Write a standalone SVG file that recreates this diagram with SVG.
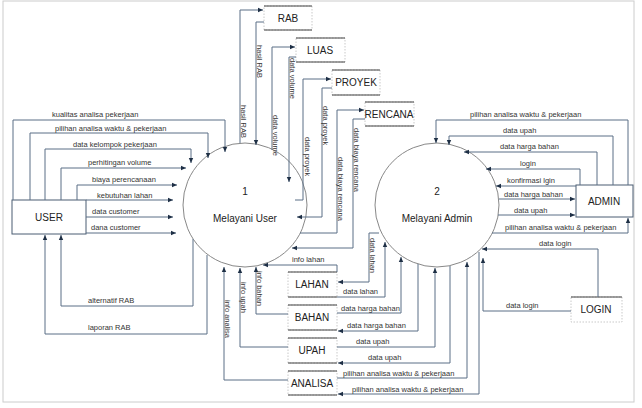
<svg xmlns="http://www.w3.org/2000/svg" width="642" height="408" viewBox="0 0 642 408">
<style>
.bg{fill:#fff}
.c{fill:none;stroke:#4a5d72;stroke-width:1}
.ln{fill:none;stroke:#5b6f86;stroke-width:1}
.bx{fill:#fff;stroke:#bbb;stroke-width:0.8;stroke-dasharray:1.5 1.5}
.bt{stroke:#444;stroke-width:1}
.circ{fill:#fff;stroke:#888;stroke-width:1}
.t{font-family:"Liberation Sans",Arial,sans-serif;font-size:7.5px;fill:#333}
.n{font-family:"Liberation Sans",Arial,sans-serif;font-size:10px;fill:#222;text-anchor:middle}
</style>
<defs>
<marker id="a" markerWidth="6" markerHeight="6" refX="5" refY="3" orient="auto" markerUnits="userSpaceOnUse"><path d="M0,0.8 L5,3 L0,5.2z" fill="#1e2f45"/></marker>
</defs>
<rect class="bg" width="642" height="408"/>
<rect x="3" y="1" width="631" height="401" fill="none" stroke="#ccc"/>

<g id="p1"><circle class="circ" cx="245" cy="205" r="62"/><text class="n" x="245" y="195">1</text><text class="n" x="245" y="222">Melayani User</text></g>
<g id="p2"><circle class="circ" cx="437" cy="205" r="62"/><text class="n" x="437" y="195">2</text><text class="n" x="437" y="222">Melayani Admin</text></g>

<g id="user"><rect x="12" y="200" width="74" height="34" fill="#fff" stroke="#4a5d72"/><text class="n" x="49" y="221">USER</text></g>
<g id="admin"><rect x="576" y="185" width="57" height="32" fill="#fff" stroke="#4a5d72"/><text class="n" x="604" y="205">ADMIN</text></g>
<g id="login"><rect class="bx" x="571" y="297" width="51" height="25"/><line class="bt" x1="571" y1="297" x2="622" y2="297" stroke="#bbb"/><text class="n" x="596" y="313">LOGIN</text></g>
<g id="rab"><rect class="bx" x="264" y="6" width="48" height="24"/><line class="bt" x1="264" y1="6" x2="312" y2="6"/><line class="bt" x1="264" y1="30" x2="312" y2="30"/><text class="n" x="288" y="22">RAB</text></g>
<g id="luas"><rect class="bx" x="296" y="38" width="49" height="24"/><line class="bt" x1="296" y1="38" x2="345" y2="38"/><line class="bt" x1="296" y1="62" x2="345" y2="62"/><text class="n" x="320" y="54">LUAS</text></g>
<g id="proyek"><rect class="bx" x="332" y="70" width="48" height="25"/><line class="bt" x1="332" y1="70" x2="380" y2="70"/><line class="bt" x1="332" y1="95" x2="380" y2="95"/><text class="n" x="356" y="86">PROYEK</text></g>
<g id="rencana"><rect class="bx" x="365" y="102" width="49" height="24"/><line class="bt" x1="365" y1="102" x2="414" y2="102"/><line class="bt" x1="365" y1="126" x2="414" y2="126"/><text class="n" x="389" y="118">RENCANA</text></g>
<g id="lahan"><rect class="bx" x="288" y="272" width="49" height="25"/><line class="bt" x1="288" y1="272" x2="337" y2="272"/><line class="bt" x1="288" y1="297" x2="337" y2="297"/><text class="n" x="312" y="288">LAHAN</text></g>
<g id="bahan"><rect class="bx" x="288" y="305" width="49" height="25"/><line class="bt" x1="288" y1="305" x2="337" y2="305"/><line class="bt" x1="288" y1="330" x2="337" y2="330"/><text class="n" x="312" y="321">BAHAN</text></g>
<g id="upah"><rect class="bx" x="288" y="338" width="49" height="25"/><line class="bt" x1="288" y1="338" x2="337" y2="338"/><line class="bt" x1="288" y1="363" x2="337" y2="363"/><text class="n" x="312" y="354">UPAH</text></g>
<g id="analisa"><rect class="bx" x="288" y="371" width="49" height="24"/><line class="bt" x1="288" y1="371" x2="337" y2="371"/><line class="bt" x1="288" y1="395" x2="337" y2="395"/><text class="n" x="312" y="387">ANALISA</text></g>

<g id="connectors" class="ln">
<!-- USER -> P1 -->
<path class="ln" marker-end="url(#a)" d="M13,200 V120 H225 V152"/>
<path class="ln" marker-end="url(#a)" d="M30,200 V133 H208 V158"/>
<path class="ln" marker-end="url(#a)" d="M45,200 V149 H191 V163"/>
<path class="ln" marker-end="url(#a)" d="M61,200 V168 H186"/>
<path class="ln" marker-end="url(#a)" d="M77,200 V185 H177"/>
<path class="ln" marker-end="url(#a)" d="M86,200 H173"/>
<path class="ln" marker-end="url(#a)" d="M86,217 H173"/>
<path class="ln" marker-end="url(#a)" d="M86,233 H176"/>
<path class="ln" marker-end="url(#a)" d="M193,239 V306 H61 V235"/>
<path class="ln" marker-end="url(#a)" d="M207,255 V334 H45 V235"/>
<!-- top stores -->
<path class="ln" marker-end="url(#a)" d="M240,143 V10 H263"/>
<path class="ln" marker-end="url(#a)" d="M264,22 H256 V145"/>
<path class="ln" marker-end="url(#a)" d="M272,150 V47 H295"/>
<path class="ln" marker-end="url(#a)" d="M296,57 H289 V182"/>
<path class="ln" marker-end="url(#a)" d="M295,200 H303 V79 H331"/>
<path class="ln" marker-end="url(#a)" d="M332,88 H322 V217 H297"/>
<path class="ln" marker-end="url(#a)" d="M300,233 H337 V110 H364"/>
<path class="ln" marker-end="url(#a)" d="M365,119 H353 V248 H292"/>
<!-- bottom stores to P1 -->
<path class="ln" marker-end="url(#a)" d="M337,272 V265 H263"/>
<path class="ln" marker-end="url(#a)" d="M288,314 H256 V267"/>
<path class="ln" marker-end="url(#a)" d="M288,347 H240 V268"/>
<path class="ln" marker-end="url(#a)" d="M288,380 H224 V267"/>
<!-- P2 and stores -->
<path class="ln" marker-end="url(#a)" d="M379,233 H369 V282 H338"/>
<path class="ln" marker-end="url(#a)" d="M337,297 H385 V242"/>
<path class="ln" marker-end="url(#a)" d="M337,313 H401 V257"/>
<path class="ln" marker-end="url(#a)" d="M418,264 V331 H338"/>
<path class="ln" marker-end="url(#a)" d="M337,347 H435 V268"/>
<path class="ln" marker-end="url(#a)" d="M450,266 V363 H338"/>
<path class="ln" marker-end="url(#a)" d="M337,378 H467 V262"/>
<path class="ln" marker-end="url(#a)" d="M479,252 V394 H338"/>
<!-- login -->
<path class="ln" marker-end="url(#a)" d="M598,297 V249 H482"/>
<path class="ln" marker-end="url(#a)" d="M571,311 H483 V258"/>
<!-- admin -->
<path class="ln" marker-end="url(#a)" d="M628,185 V120 H436 V143"/>
<path class="ln" marker-end="url(#a)" d="M613,185 V136 H449 V145"/>
<path class="ln" marker-end="url(#a)" d="M597,185 V152 H464"/>
<path class="ln" marker-end="url(#a)" d="M580,185 V169 H486"/>
<path class="ln" marker-end="url(#a)" d="M576,186 H496"/>
<path class="ln" marker-end="url(#a)" d="M499,199 H575"/>
<path class="ln" marker-end="url(#a)" d="M498,215 H575"/>
<path class="ln" marker-end="url(#a)" d="M492,233 H628 V218"/>
</g>

<g id="labels" class="t">
<text x="52" y="117">kualitas analisa pekerjaan</text>
<text x="55" y="131">pilihan analisa waktu &amp; pekerjaan</text>
<text x="73" y="147">data kelompok pekerjaan</text>
<text x="88" y="165">perhitingan volume</text>
<text x="92" y="182">biaya perencanaan</text>
<text x="97" y="198">kebutuhan lahan</text>
<text x="92" y="214">data customer</text>
<text x="91" y="230">dana customer</text>
<text x="88" y="303">alternatif RAB</text>
<text x="88" y="330">laporan RAB</text>
<text transform="translate(241,105) rotate(90)">hasil RAB</text>
<text transform="translate(257,45) rotate(90)">hasil RAB</text>
<text transform="translate(273,115) rotate(90)">data volume</text>
<text transform="translate(290,58) rotate(90)">data volume</text>
<text transform="translate(305,137) rotate(90)">data proyek</text>
<text transform="translate(323,106) rotate(90)">data proyek</text>
<text transform="translate(338,157) rotate(90)">data biaya rencana</text>
<text transform="translate(354,128) rotate(90)">data biaya rencana</text>
<text x="292" y="262">info lahan</text>
<text transform="translate(257,271) rotate(90)">info bahan</text>
<text transform="translate(241,282) rotate(90)">info upah</text>
<text transform="translate(225,300) rotate(90)">info analisa</text>
<text transform="translate(370,238) rotate(90)">data lahan</text>
<text x="343" y="294">data lahan</text>
<text x="341" y="311">data harga bahan</text>
<text x="347" y="328">data harga bahan</text>
<text x="356" y="344">data upah</text>
<text x="368" y="360">data upah</text>
<text x="343" y="376">pilihan analisa waktu &amp; pekerjaan</text>
<text x="352" y="392">pilihan analisa waktu &amp; pekerjaan</text>
<text x="539" y="246">data login</text>
<text x="506" y="308">data login</text>
<text x="470" y="117">pilihan analisa waktu &amp; pekerjaan</text>
<text x="503" y="133">data upah</text>
<text x="500" y="149">data harga bahan</text>
<text x="520" y="166">login</text>
<text x="507" y="183">konfirmasi lgin</text>
<text x="504" y="197">data harga bahan</text>
<text x="514" y="213">data upah</text>
<text x="505" y="230">pilihan analisa waktu &amp; pekerjaan</text>
</g>
</svg>
